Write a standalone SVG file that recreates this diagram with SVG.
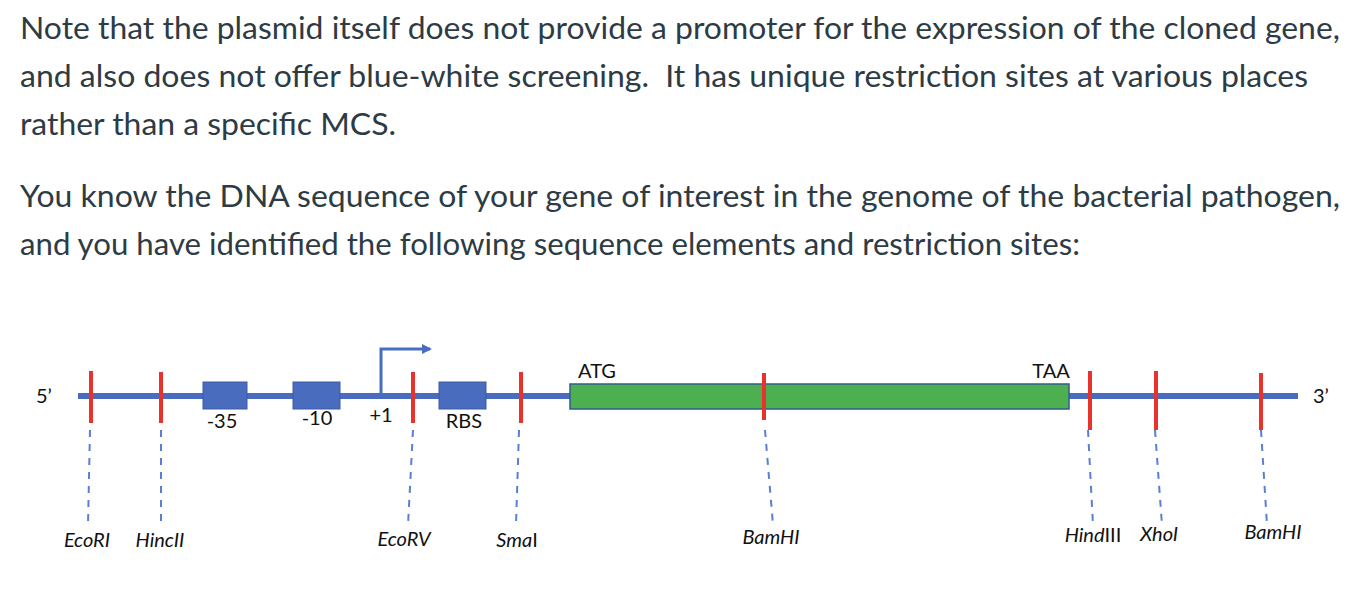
<svg xmlns="http://www.w3.org/2000/svg" width="1364" height="592" viewBox="0 0 1364 592">
<style>
.p{font-family:Lato,"Liberation Sans",sans-serif;font-size:30px;fill:#2d3b45}
.t{font-family:Lato,"Liberation Sans",Arial,sans-serif;font-size:20px;fill:#111}
.i{font-style:italic}
.cut{stroke:#e8322b;stroke-width:4}
.box{fill:#4a6cbf;stroke:#3a5aa5;stroke-width:1}
.dash{stroke:#5b7fd0;stroke-width:2;stroke-dasharray:7,7}
</style>
<defs><marker id="ah" markerWidth="10" markerHeight="10" refX="8" refY="5" orient="auto" markerUnits="userSpaceOnUse"><path d="M0,0 L10,5 L0,10 z" fill="#4a6cbf"/></marker></defs>
<rect width="1364" height="592" fill="#fff"/>
<g id="text">
<text class="p" x="20" y="39" textLength="1320" lengthAdjust="spacingAndGlyphs">Note that the plasmid itself does not provide a promoter for the expression of the cloned gene,</text>
<text class="p" x="20" y="87" textLength="1288" lengthAdjust="spacingAndGlyphs" xml:space="preserve">and also does not offer blue-white screening.  It has unique restriction sites at various places</text>
<text class="p" x="20" y="135" textLength="376" lengthAdjust="spacingAndGlyphs">rather than a specific MCS.</text>
<text class="p" x="20" y="207" textLength="1320" lengthAdjust="spacingAndGlyphs">You know the DNA sequence of your gene of interest in the genome of the bacterial pathogen,</text>
<text class="p" x="20" y="255" textLength="1060" lengthAdjust="spacingAndGlyphs">and you have identified the following sequence elements and restriction sites:</text>
</g>
<g id="connectors">
<line x1="78" y1="396" x2="1298" y2="396" stroke="#4a6cbf" stroke-width="6"/>
<polyline points="381,396 381,349 430,349" fill="none" stroke="#4a6cbf" stroke-width="3" marker-end="url(#ah)"/>
<line class="dash" x1="90" y1="430" x2="88" y2="525"/>
<line class="dash" x1="161" y1="430" x2="161" y2="525"/>
<line class="dash" x1="413" y1="430" x2="408" y2="525"/>
<line class="dash" x1="519" y1="430" x2="516" y2="525"/>
<line class="dash" x1="765" y1="430" x2="773" y2="525"/>
<line class="dash" x1="1088" y1="430" x2="1093" y2="525"/>
<line class="dash" x1="1155" y1="430" x2="1162" y2="525"/>
<line class="dash" x1="1261" y1="430" x2="1267" y2="525"/>
</g>
<g id="n35"><rect class="box" x="203" y="382" width="44" height="27"/><text class="t" x="222" y="428" text-anchor="middle">-35</text></g>
<g id="n10"><rect class="box" x="293" y="382" width="47" height="27"/><text class="t" x="317" y="425" text-anchor="middle">-10</text></g>
<g id="plus1"><text class="t" x="381" y="422" text-anchor="middle">+1</text></g>
<g id="rbs"><rect class="box" x="439" y="382" width="47" height="27"/><text class="t" x="464" y="428" text-anchor="middle">RBS</text></g>
<g id="gene"><rect x="570" y="384" width="499" height="25" fill="#4caf50" stroke="#2f5e8a" stroke-width="1.5"/>
<text class="t" x="597" y="378" text-anchor="middle">ATG</text><text class="t" x="1051" y="378" text-anchor="middle">TAA</text></g>
<g id="ends"><text class="t" x="36" y="403">5’</text><text class="t" x="1313" y="403">3’</text></g>
<g id="sites">
<line class="cut" x1="91" y1="371" x2="91" y2="423"/>
<line class="cut" x1="161" y1="372" x2="161" y2="423"/>
<line class="cut" x1="413" y1="372" x2="413" y2="423"/>
<line class="cut" x1="521" y1="372" x2="521" y2="423"/>
<line class="cut" x1="764" y1="373" x2="764" y2="420"/>
<line class="cut" x1="1090" y1="371" x2="1090" y2="430"/>
<line class="cut" x1="1156" y1="371" x2="1156" y2="430"/>
<line class="cut" x1="1261" y1="373" x2="1261" y2="430"/>
</g>
<g id="labels">
<text class="t i" x="87" y="547" text-anchor="middle">EcoRI</text>
<text class="t i" x="160" y="547" text-anchor="middle">HincII</text>
<text class="t i" x="404" y="546" text-anchor="middle">EcoRV</text>
<text class="t" x="517" y="547" text-anchor="middle"><tspan class="i">Sma</tspan>I</text>
<text class="t i" x="771" y="544" text-anchor="middle">BamHI</text>
<text class="t" x="1093" y="542" text-anchor="middle"><tspan class="i">Hind</tspan>III</text>
<text class="t i" x="1159" y="541" text-anchor="middle">XhoI</text>
<text class="t i" x="1273" y="539" text-anchor="middle">BamHI</text>
</g>
</svg>
